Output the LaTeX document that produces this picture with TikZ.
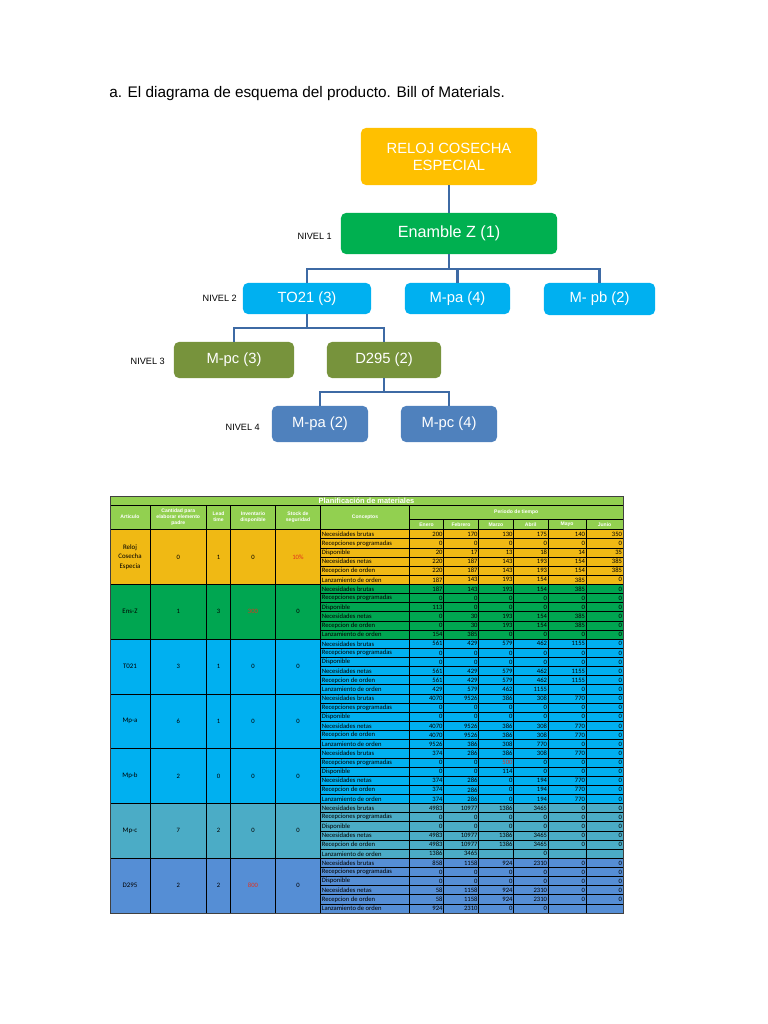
\documentclass[tikz,border=0pt]{standalone}
\usepackage{fontspec}
\setmainfont{Liberation Sans}
\newfontfamily\calib{Carlito}
\usepackage{xcolor}
\usetikzlibrary{positioning,calc}
\definecolor{orocolor}{RGB}{255,192,0}
\definecolor{verdecolor}{RGB}{0,176,80}
\definecolor{cielocolor}{RGB}{0,176,240}
\definecolor{olivacolor}{RGB}{119,147,60}
\definecolor{azulcolor}{RGB}{79,129,189}
\definecolor{lineacolor}{RGB}{62,106,164}
\definecolor{cabcolor}{RGB}{146,208,80}
\definecolor{relojcolor}{RGB}{240,185,20}
\definecolor{enscolor}{RGB}{0,166,81}
\definecolor{mpccolor}{RGB}{75,172,198}
\definecolor{dcolor}{RGB}{85,142,213}
\definecolor{rojo}{RGB}{225,50,30}

% one block of the MRP table: index, colour, article, qty, lead, stock on hand, safety stock, rows
\newcommand{\grupo}[8]{%
  \pgfmathsetmacro\ytop{529.5+54.78*#1}
  \fill[#2] (110,\ytop) rectangle (623,\ytop+54.78);
  \node[celda,align=center,font=\calib\fontsize{4.9}{6.7}\selectfont] (art#1) at (130,\ytop+27.4) {#3};
  \node[celda] (cant#1) at (178.25,\ytop+27.4) {#4};
  \node[celda] (lead#1) at (218.5,\ytop+27.4) {#5};
  \node[celda] (inv#1) at (253,\ytop+27.4) {#6};
  \node[celda] (stock#1) at (298,\ytop+27.4) {#7};
  \foreach \con [count=\r from 0] in {Necesidades brutas,Recepciones programadas,Disponible,Necesidades netas,Recepcion de orden,Lanzamiento de orden}
    \node[celda,anchor=west] (con#1-\r) at (321.5,\ytop+9.13*\r+4.7) {\con};
  \foreach \fila [count=\r from 0] in {#8}{
    \foreach \v [count=\c from 0] in \fila{
      \pgfmathsetmacro\xr{{442.8,477.8,512.8,547.3,585.3,622.3}[\c]}
      \node[celda,anchor=east] (v#1-\r-\c) at (\xr,\ytop+9.13*\r+4.7) {\v};
    }
  }
  \foreach \r in {1,...,5} \draw[rejilla] (320.5,\ytop+9.13*\r) -- (623,\ytop+9.13*\r);
  \foreach \x in {150,206.5,230.5,275.5,320.5,409.5,443.5,478.5,513.5,548,586}
    \draw[rejilla] (\x,\ytop) -- (\x,\ytop+54.78);
  \draw[rejilla] (110,\ytop) -- (623,\ytop);
  \draw[rejilla] (110,\ytop+54.78) -- (623,\ytop+54.78);
}

\begin{document}
\begin{tikzpicture}[x=0.025cm,y=-0.025cm,
  caja/.style={rounded corners=3.5pt,text=white,align=center,inner sep=0pt,font=\fontsize{10.5}{12}\selectfont},
  conector/.style={draw=lineacolor,line width=1.5pt},
  nivel/.style={anchor=east,inner sep=0pt,font=\fontsize{6.5}{7}\selectfont},
  celda/.style={inner sep=0pt,font=\calib\fontsize{4.7}{5.2}\selectfont},
  cab/.style={inner sep=0pt,text=white,align=center,font=\bfseries\fontsize{3.6}{4.3}\selectfont},
  rejilla/.style={draw=black,line width=0.35pt}]
\useasboundingbox (0,0) rectangle (768,1024);

\node[anchor=west,inner sep=0pt,font=\fontsize{10.9}{13}\selectfont] (titulo) at (109,94) {a. El diagrama de esquema del producto. Bill of Materials.};

% bill of materials
\node[caja,fill=orocolor,minimum width=4.4cm,minimum height=1.425cm] (reloj) at (449,156.5) {RELOJ COSECHA\\ESPECIAL};
\node[caja,fill=verdecolor,minimum width=5.4cm,minimum height=1.025cm,font=\fontsize{11.5}{13}\selectfont] (ens) at (449,233.5) {Enamble Z (1)};
\node[caja,fill=cielocolor,minimum width=3.2cm,minimum height=0.775cm] (t021) at (307,298.5) {TO21 (3)};
\node[caja,fill=cielocolor,minimum width=2.625cm,minimum height=0.775cm] (mpa4) at (457.5,298.5) {M-pa (4)};
\node[caja,fill=cielocolor,minimum width=2.775cm,minimum height=0.8cm] (mpb) at (599.5,299) {M- pb (2)};
\node[caja,fill=olivacolor,minimum width=3cm,minimum height=0.9cm] (mpc3) at (234,360) {M-pc (3)};
\node[caja,fill=olivacolor,minimum width=2.85cm,minimum height=0.9cm] (d295) at (384,360) {D295 (2)};
\node[caja,fill=azulcolor,minimum width=2.4cm,minimum height=0.9cm] (mpa2) at (320,424) {M-pa (2)};
\node[caja,fill=azulcolor,minimum width=2.4cm,minimum height=0.9cm] (mpc4) at (449,424) {M-pc (4)};
\node[nivel] (niv1) at (332,236) {NIVEL 1};
\node[nivel] (niv2) at (237,298) {NIVEL 2};
\node[nivel] (niv3) at (165,361) {NIVEL 3};
\node[nivel] (niv4) at (260,427) {NIVEL 4};

\draw[conector] (reloj) -- (ens);
\draw[conector] (ens.south) -- ++(0,14.5) coordinate (bus1);
\draw[conector] (t021.north) |- (bus1) -| (mpb.north);
\draw[conector] (mpa4.north) -- (mpa4.north |- bus1);
\draw[conector] (t021.south) -- ++(0,14) coordinate (bus2);
\draw[conector] (mpc3.north) |- (bus2) -| (d295.north);
\draw[conector] (d295.south) -- ++(0,14) coordinate (bus3);
\draw[conector] (mpa2.north) |- (bus3) -| (mpc4.north);

% planificacion de materiales
\fill[cabcolor] (110,496) rectangle (623,529.5);
\node[cab,font=\bfseries\fontsize{5.3}{6}\selectfont] (plan) at (366.5,500.7) {Planificación de materiales};
\node[cab] (hart) at (130,517) {Articulo};
\node[cab] (hcant) at (178.25,517) {Cantidad para\\elaborar elemento\\padre};
\node[cab] (hlead) at (218.5,517) {Lead\\time};
\node[cab] (hinv) at (253,517) {Inventario\\disponible};
\node[cab] (hstock) at (298,517) {Stock de\\seguridad};
\node[cab] (hcon) at (365,517) {Conceptos};
\node[cab] (hper) at (516.25,512) {Periodo de tiempo};
\foreach \m/\xa/\xb [count=\i] in {Enero/409.5/443.5,Febrero/443.5/478.5,Marzo/478.5/513.5,Abril/513.5/548,Mayo/548/586,Junio/586/623}
  \node[cab] (mes\i) at ({(\xa+\xb)/2},524.5) {\m};
\draw[rejilla] (110,505) -- (623,505);
\draw[rejilla] (409.5,519) -- (623,519);
\foreach \x in {150,206.5,230.5,275.5,320.5,409.5} \draw[rejilla] (\x,505) -- (\x,529.5);
\foreach \x in {443.5,478.5,513.5,548,586} \draw[rejilla] (\x,519) -- (\x,529.5);

\grupo{0}{relojcolor}{Reloj\\Cosecha\\Especia}{0}{1}{0}{\textcolor{rojo}{10\%}}{{200,170,130,175,140,350},{0,0,0,0,0,0},{20,17,13,18,14,35},{220,187,143,193,154,385},{220,187,143,193,154,385},{187,143,193,154,385,0}}
\grupo{1}{enscolor}{Ens-Z}{1}{3}{\textcolor{rojo}{300}}{0}{{187,143,193,154,385,0},{0,0,0,0,0,0},{113,0,0,0,0,0},{0,30,193,154,385,0},{0,30,193,154,385,0},{154,385,0,0,0,0}}
\grupo{2}{cielocolor}{T021}{3}{1}{0}{0}{{561,429,579,462,1155,0},{0,0,0,0,0,0},{0,0,0,0,0,0},{561,429,579,462,1155,0},{561,429,579,462,1155,0},{429,579,462,1155,0,0}}
\grupo{3}{cielocolor}{Mp-a}{6}{1}{0}{0}{{4070,9526,386,308,770,0},{0,0,0,0,0,0},{0,0,0,0,0,0},{4070,9526,386,308,770,0},{4070,9526,386,308,770,0},{9526,386,308,770,0,0}}
\grupo{4}{cielocolor}{Mp-b}{2}{0}{0}{0}{{374,286,386,308,770,0},{0,0,\textcolor{rojo}{500},0,0,0},{0,0,114,0,0,0},{374,286,0,194,770,0},{374,286,0,194,770,0},{374,286,0,194,770,0}}
\grupo{5}{mpccolor}{Mp-c}{7}{2}{0}{0}{{4983,10977,1386,3465,0,0},{0,0,0,0,0,0},{0,0,0,0,0,0},{4983,10977,1386,3465,0,0},{4983,10977,1386,3465,0,0},{1386,3465,{},0,{},{}}}
\grupo{6}{dcolor}{D295}{2}{2}{\textcolor{rojo}{800}}{0}{{858,1158,924,2310,0,0},{0,0,0,0,0,0},{0,0,0,0,0,0},{58,1158,924,2310,0,0},{58,1158,924,2310,0,0},{924,2310,0,0,{},{}}}

\draw[draw=black!75,line width=0.7pt] (110,496) rectangle (623,913);
\end{tikzpicture}
\end{document}
